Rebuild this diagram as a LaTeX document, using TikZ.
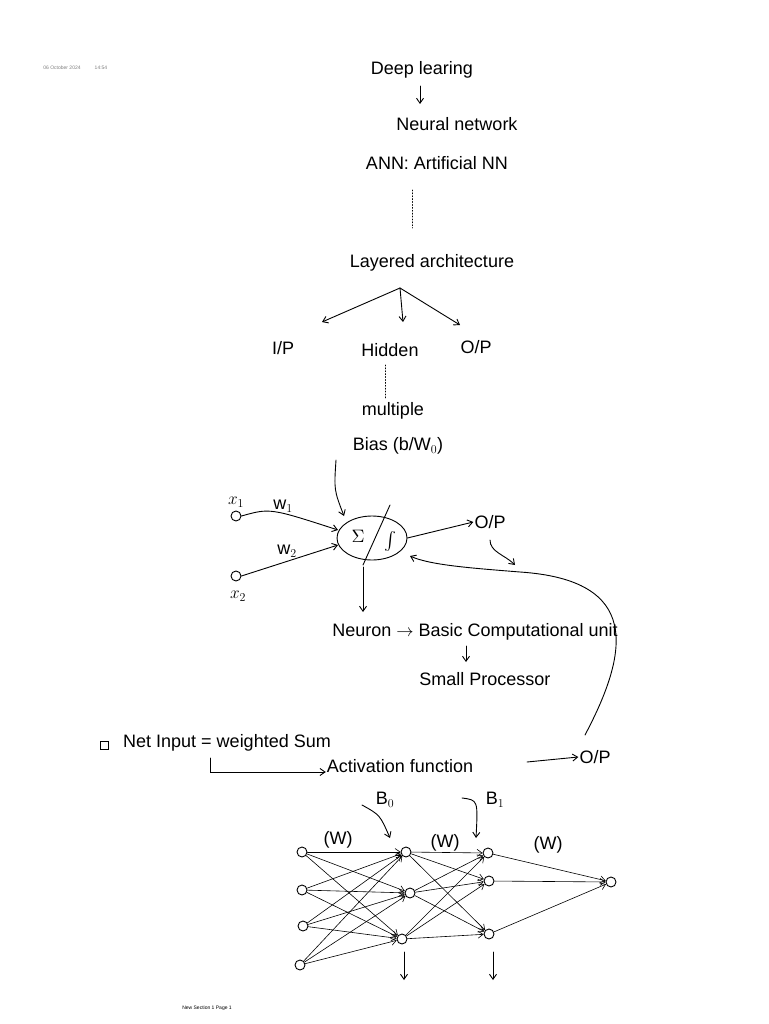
\documentclass[tikz,border=0pt]{standalone}
\usepackage{fontspec}
\setmainfont{Liberation Sans}
\usetikzlibrary{arrows.meta,shapes.geometric}
\begin{document}
\begin{tikzpicture}[x=1pt,y=-1pt,
  txt/.style={font=\fontsize{18}{21}\selectfont, inner sep=1pt},
  ink/.style={line width=0.9pt, line cap=round},
  arr/.style={ink,-{Straight Barb[length=5pt,width=7pt]}},
  dot/.style={ink, dotted},
  nn/.style={circle, draw, line width=0.9pt, minimum size=10pt, inner sep=0pt}]
\fill[white] (0,0) rectangle (768,1024);
\useasboundingbox (0,0) rectangle (768,1024);
\node[font=\tiny, text=gray] (date) at (62,68) {06 October 2024};
\node[font=\tiny, text=gray] (time) at (101,68) {14:54};
\node[font=\tiny] (foot) at (207,1008) {New Section 1 Page 1};

\node[txt] (dl) at (422,70) {Deep learing};
\coordinate (a1) at (420,86); \coordinate (a2) at (420,104);
\draw[arr] (a1) -- (a2);
\node[txt] (nnw) at (457,124) {Neural network};
\node[txt] (ann) at (437,163) {ANN: Artificial NN};
\coordinate (d1) at (412,190); \coordinate (d2) at (412,228);
\draw[dot] (d1) -- (d2);
\node[txt] (la) at (432,263) {Layered architecture};
\node[txt] (ip) at (283,348) {I/P};
\node[txt] (hid) at (390,350) {Hidden};
\node[txt] (op1) at (476,347) {O/P};
\coordinate (split) at (400,288);
\draw[arr] (split) -- (322,322);
\draw[arr] (split) -- (403,322);
\draw[arr] (split) -- (460,325);
\coordinate (d3) at (385,365); \coordinate (d4) at (385,398);
\draw[dot] (d3) -- (d4);
\node[txt] (mul) at (393,411) {multiple};
\node[txt] (bias) at (398,446) {Bias (b/W$_0$)};

% neuron
\node[ellipse, draw, line width=0.9pt, minimum width=70pt, minimum height=44pt, inner sep=0pt] (neu) at (372,538) {};
\node[inner sep=0pt, scale=1.8] (sig) at (358,536) {$\Sigma$};
\node[inner sep=0pt, scale=1.8] (intg) at (390,541) {$\int$};
\draw[ink] (390,505) -- (363,565);
\node[nn] (x1) at (236,516) {};
\node[txt] (x1l) at (236,502) {$x_1$};
\node[nn] (x2) at (236,576) {};
\node[txt] (x2l) at (238,596) {$x_2$};
\node[txt] (w1) at (283,506) {w$_1$};
\node[txt] (w2) at (287,551) {w$_2$};
\draw[arr] (x1.east) .. controls (270,508) .. (338,530);
\draw[arr] (x2.east) -- (338,545);
\draw[arr] (336,460) .. controls (334,490) .. (344,516);
\node[txt] (op2) at (490,522) {O/P};
\draw[arr] (neu.east) -- (op2.west);
\draw[arr] (490,540) .. controls (490,552) and (505,555) .. (515,565);
\coordinate (fb0) at (585,735);
\draw[arr] (fb0) .. controls (630,650) and (640,580) .. (520,572) .. controls (470,568) and (430,565) .. (410,556);
\node[txt] (neur) at (475,632) {Neuron $\rightarrow$ Basic Computational unit};
\draw[arr] (363,567) -- (363,612);
\node[txt] (sp) at (485,679) {Small Processor};
\draw[arr] (466,646) -- (466,662);

% net input
\node[draw, line width=0.8pt, minimum size=8pt, inner sep=0pt] (box) at (104,745) {};
\node[txt, anchor=west] (net) at (122,743) {Net Input = weighted Sum};
\node[txt] (act) at (400,766) {Activation function};
\draw[arr] (210,758) -- (210,772) -- (act.west |- 0,772);
\node[txt] (op3) at (595,757) {O/P};
\draw[arr] (527,762) -- (op3.west);

% network
\node[nn] (i1) at (302,852) {}; \node[nn] (i2) at (302,890) {};
\node[nn] (i3) at (303,926) {}; \node[nn] (i4) at (300,965) {};
\node[nn] (h1) at (406,852) {}; \node[nn] (h2) at (410,893) {}; \node[nn] (h3) at (402,939) {};
\node[nn] (g1) at (488,853) {}; \node[nn] (g2) at (489,881) {}; \node[nn] (g3) at (489,934) {};
\node[nn] (o) at (611,882) {};
\foreach \a in {i1,i2,i3,i4}{\foreach \b in {h1,h2,h3}{\draw[arr, line width=0.6pt] (\a) -- (\b);}}
\foreach \a in {h1,h2,h3}{\foreach \b in {g1,g2,g3}{\draw[arr, line width=0.6pt] (\a) -- (\b);}}
\foreach \a in {g1,g2,g3}{\draw[arr, line width=0.6pt] (\a) -- (o);}
\node[txt] (wa) at (338,840) {(W)};
\node[txt] (wb) at (445,843) {(W)};
\node[txt] (wc) at (548,845) {(W)};
\node[txt] (b0) at (385,800) {B$_0$};
\node[txt] (b1) at (495,800) {B$_1$};
\draw[arr] (362,805) .. controls (380,815) .. (390,838);
\draw[arr] (462,798) .. controls (478,800) .. (476,838);
\draw[arr] (404,952) -- (404,980);
\draw[arr] (493,952) -- (493,980);
\end{tikzpicture}
\end{document}
